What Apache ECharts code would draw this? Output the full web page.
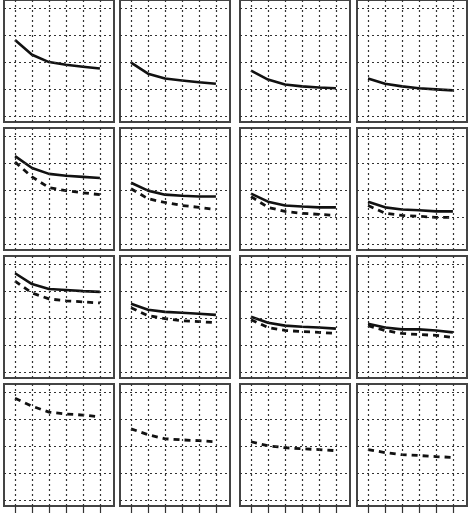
<!DOCTYPE html>
<html><head><meta charset="utf-8">
<script src="https://cdn.jsdelivr.net/npm/echarts@6/dist/echarts.min.js"></script>
<style>html,body{margin:0;padding:0;background:#fff}#c{width:474px;height:513px}</style>
</head><body><div id="c"></div>
<script>
const xCats = [1,2,3,4,5,6];
const yTicks = [0,1,2,3,4];
const solid = [
 [2.82,2.27,2.0,1.9,1.83,1.76],[1.98,1.57,1.39,1.32,1.25,1.2],[1.68,1.35,1.17,1.1,1.06,1.03],[1.39,1.2,1.1,1.03,0.99,0.95],
 [3.26,2.82,2.6,2.53,2.49,2.45],[2.27,1.98,1.83,1.79,1.76,1.76],[1.87,1.57,1.43,1.39,1.36,1.36],[1.57,1.36,1.28,1.25,1.21,1.21],
 [3.66,3.26,3.08,3.04,3.0,2.97],[2.53,2.31,2.23,2.2,2.16,2.12],[2.05,1.83,1.72,1.68,1.65,1.61],[1.79,1.65,1.58,1.58,1.54,1.47],
 null,null,null,null
];
const dashed = [
 null,null,null,null,
 [3.04,2.49,2.09,1.98,1.9,1.83],[2.05,1.68,1.54,1.43,1.36,1.28],[1.76,1.36,1.21,1.14,1.1,1.06],[1.43,1.14,1.06,1.03,0.99,0.99],
 [3.37,2.93,2.71,2.64,2.6,2.56],[2.38,2.09,1.98,1.9,1.87,1.83],[1.94,1.65,1.54,1.5,1.47,1.43],[1.72,1.54,1.43,1.39,1.36,1.28],
 [3.77,3.48,3.26,3.19,3.15,3.08],[2.64,2.42,2.27,2.23,2.2,2.16],[2.16,2.01,1.94,1.9,1.87,1.83],[1.87,1.76,1.68,1.65,1.61,1.58]
];
const lefts=[4,120,240,357], tops=[0,128,256,384], W=110, H=122;
const grid=[],xAxis=[],yAxis=[],series=[];
for(let r=0;r<4;r++)for(let c=0;c<4;c++){
  const i=r*4+c;
  grid.push({left:lefts[c],top:tops[r],width:W,height:H,show:true,borderColor:'#444',borderWidth:2,backgroundColor:'#fff'});
  xAxis.push({gridIndex:i,type:'value',min:0.35,max:6.83,position:'bottom',
    axisLine:{show:false,onZero:false},
    axisLabel:{show:false,customValues:xCats},splitLine:{show:false},
    axisTick:{show:r===3,inside:false,length:7,lineStyle:{color:'#333',width:1.2},customValues:xCats}});
  yAxis.push({gridIndex:i,type:'value',min:-0.22,max:4.3,axisLine:{show:false},axisLabel:{show:false},
    axisTick:{show:false},splitLine:{show:false}});
  series.push({type:'line',xAxisIndex:i,yAxisIndex:i,data:[],silent:true,
    markLine:{silent:true,symbol:'none',label:{show:false},lineStyle:{color:'#333',type:[2,3],width:1.2},
      data:[...xCats.map(v=>({xAxis:v})),...yTicks.map(v=>({yAxis:v}))]}});
  if(solid[i]) series.push({type:'line',xAxisIndex:i,yAxisIndex:i,showSymbol:false,
    data:xCats.map((x,k)=>[x,solid[i][k]]),lineStyle:{color:'#111',width:2.6}});
  if(dashed[i]) series.push({type:'line',xAxisIndex:i,yAxisIndex:i,showSymbol:false,
    data:xCats.map((x,k)=>[x,dashed[i][k]]),lineStyle:{color:'#111',width:2.8,type:[6,5]}});
}
const chart=echarts.init(document.getElementById('c'));
chart.setOption({animation:false,grid,xAxis,yAxis,series});
</script></body></html>
